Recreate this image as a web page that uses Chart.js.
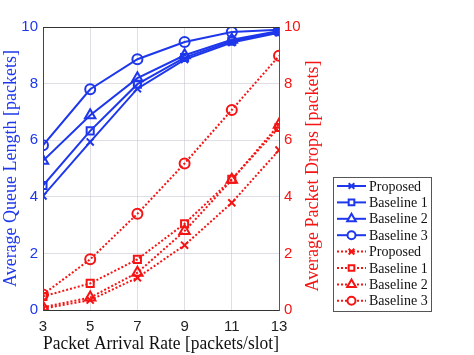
<!DOCTYPE html>
<html><head><meta charset="utf-8">
<script src="https://cdn.jsdelivr.net/npm/chart.js@4"></script>
<style>html,body{margin:0;padding:0;background:#fff}#wrap{width:474px;height:355px}</style>
</head><body><div id="wrap"><canvas id="c" width="474" height="355"></canvas></div>
<script>
const arrivalRates = [3, 5, 7, 9, 11, 13];
const queueProposed  = [4.03, 5.94, 7.82, 8.85, 9.45, 9.80];
const queueBaseline1 = [4.40, 6.33, 7.98, 8.92, 9.50, 9.83];
const queueBaseline2 = [5.27, 6.88, 8.19, 9.00, 9.55, 9.86];
const queueBaseline3 = [5.82, 7.80, 8.86, 9.47, 9.82, 9.90];
const dropsProposed  = [0.05, 0.35, 1.14, 2.29, 3.79, 5.65];
const dropsBaseline1 = [0.48, 0.94, 1.79, 3.05, 4.62, 6.45];
const dropsBaseline2 = [0.10, 0.44, 1.32, 2.79, 4.60, 6.55];
const dropsBaseline3 = [0.55, 1.79, 3.40, 5.18, 7.07, 8.98];
const xTicks = [3, 5, 7, 9, 11, 13];
const yTicks = [0, 2, 4, 6, 8, 10];
const seriesNames = ['Proposed', 'Baseline 1', 'Baseline 2', 'Baseline 3'];
const rightTitle = 'Average Packet Drops [packets]';

const BLUE = 'rgb(30,55,235)';
const RED = 'rgb(245,20,20)';
const styles = ['crossRot', 'rect', 'triangle', 'circle'];
const radii = [5, 5, 6, 5];

function pts(arr){ return arr.map((v,i)=>({x: arrivalRates[i], y: v})); }
const queueSets = [queueProposed, queueBaseline1, queueBaseline2, queueBaseline3];
const dropSets = [dropsProposed, dropsBaseline1, dropsBaseline2, dropsBaseline3];
const datasets = [];
queueSets.forEach((d,i)=>datasets.push({
  label: seriesNames[i], data: pts(d), yAxisID: 'yL',
  borderColor: BLUE, backgroundColor: 'rgba(0,0,0,0)', borderWidth: 2,
  pointStyle: styles[i], pointRadius: radii[i], pointBorderColor: BLUE, pointBorderWidth: 2,
  pointBackgroundColor: 'rgba(0,0,0,0)', tension: 0
}));
dropSets.forEach((d,i)=>datasets.push({
  label: seriesNames[i], data: pts(d), yAxisID: 'yR',
  borderColor: RED, backgroundColor: 'rgba(0,0,0,0)', borderWidth: 2, borderDash: [2,2],
  pointStyle: styles[i], pointRadius: radii[i], pointBorderColor: RED, pointBorderWidth: 2,
  pointBackgroundColor: 'rgba(0,0,0,0)', tension: 0
}));

const serif = "'Liberation Serif', 'DejaVu Serif', serif";
const sans = "'Liberation Sans', Arial, sans-serif";

const framePlugin = {
  id: 'frame',
  afterDraw(chart){
    const ctx = chart.ctx, a = chart.chartArea;
    ctx.save();
    ctx.strokeStyle = '#333'; ctx.lineWidth = 1;
    ctx.beginPath(); ctx.moveTo(a.left, a.top+0.5); ctx.lineTo(a.right, a.top+0.5); ctx.stroke();
    // right axis title, reading bottom-to-top
    ctx.save();
    ctx.translate(313, 176);
    ctx.rotate(-Math.PI/2);
    ctx.font = '18px ' + serif; ctx.fillStyle = RED;
    ctx.textAlign = 'center'; ctx.textBaseline = 'middle';
    ctx.fillText(rightTitle, 0, 0);
    ctx.restore();
    // legend
    const lx = 333, ly = 177, lw = 98, lh = 134;
    ctx.fillStyle = '#fff'; ctx.fillRect(lx, ly, lw, lh);
    ctx.strokeStyle = '#555'; ctx.lineWidth = 1;
    ctx.strokeRect(lx+0.5, ly+0.5, lw, lh);
    ctx.font = '14px ' + serif; ctx.textBaseline = 'middle'; ctx.textAlign = 'left';
    chart.data.datasets.forEach((ds, i)=>{
      const y = ly + 9 + i * 16.4;
      ctx.strokeStyle = ds.borderColor; ctx.lineWidth = 2;
      ctx.setLineDash(ds.borderDash || []);
      ctx.beginPath(); ctx.moveTo(lx+4, y); ctx.lineTo(lx+33, y); ctx.stroke();
      ctx.setLineDash([]);
      ctx.fillStyle = '#fff';
      Chart.helpers.drawPoint(ctx, {pointStyle: ds.pointStyle, radius: ds.pointRadius-1, borderWidth: 2}, lx+18.5, y);
      ctx.fillStyle = '#111';
      ctx.fillText(ds.label, lx+36, y+1);
    });
    ctx.restore();
  }
};

new Chart(document.getElementById('c'), {
  type: 'line',
  data: { datasets },
  plugins: [framePlugin],
  options: {
    responsive: false, animation: false, devicePixelRatio: 1,
    layout: { padding: { top: 27, right: 145, left: 0, bottom: 0 } },
    plugins: { legend: { display: false }, tooltip: { enabled: false } },
    scales: {
      x: {
        type: 'linear', min: 3, max: 13,
        afterBuildTicks(s){ s.ticks = xTicks.map(v=>({value:v})); },
        afterFit(s){ s.height = 45; },
        grid: { color: 'rgba(200,200,210,0.6)', drawTicks: false },
        border: { color: '#333', width: 1 },
        ticks: { color: '#222', font: { family: sans, size: 15 }, padding: 8 },
        title: { display: true, text: 'Packet Arrival Rate [packets/slot]', color: '#111', font: { family: serif, size: 18 }, padding: { top: 0, bottom: 0 } }
      },
      yL: {
        type: 'linear', position: 'left', min: 0, max: 10,
        afterBuildTicks(s){ s.ticks = yTicks.map(v=>({value:v})); },
        afterFit(s){ s.width = 43; },
        grid: { color: 'rgba(200,200,210,0.6)', drawTicks: false },
        border: { color: BLUE, width: 1 },
        ticks: { color: BLUE, font: { family: sans, size: 15 }, padding: 5 },
        title: { display: true, text: 'Average Queue Length [packets]', color: BLUE, font: { family: serif, size: 18 }, padding: { top: 0, bottom: 0 } }
      },
      yR: {
        type: 'linear', position: 'right', min: 0, max: 10,
        afterBuildTicks(s){ s.ticks = yTicks.map(v=>({value:v})); },
        afterFit(s){ s.width = 50; },
        grid: { display: false, drawTicks: false },
        border: { color: RED, width: 1 },
        ticks: { color: RED, font: { family: sans, size: 15 }, padding: 5 },
        title: { display: false }
      }
    }
  }
});
</script></body></html>
